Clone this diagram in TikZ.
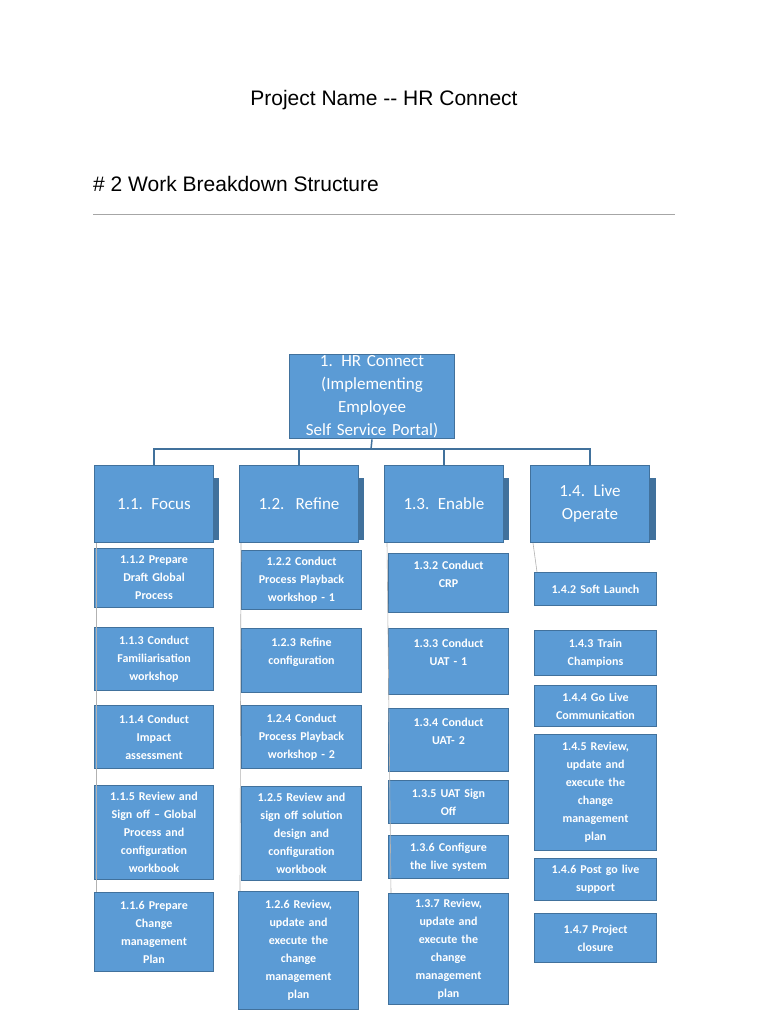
\documentclass[tikz,border=0pt]{standalone}
\usepackage{fontspec}
\setmainfont{Carlito}
\newfontfamily\hfont{Liberation Sans}
\begin{document}
\begin{tikzpicture}[x=1pt,y=-1pt,
  box/.style={draw=boxedge,fill=boxfill,line width=1pt,anchor=north west,text=white,align=center,inner sep=1pt,font=\fontsize{12}{18}\selectfont\bfseries},
  big/.style={box,font=\fontsize{17}{23}\selectfont},
  conn/.style={draw=boxedge,line width=1.5pt},
  guide/.style={draw=gray!60,line width=0.6pt}]
\definecolor{boxfill}{HTML}{5B9BD5}
\definecolor{boxedge}{HTML}{41719C}
\useasboundingbox (0,0) rectangle (768,1024);
\fill[white] (0,0) rectangle (768,1024);
\newcommand\bx[7][box]{\node[#1,minimum width=#4,minimum height=#5,text width=#4-8] (#6) at (#2,#3) {#7};}
\node[font=\hfont\fontsize{21}{25}\selectfont] (title) at (384,100) {Project Name -- HR Connect};
\node[font=\hfont\fontsize{21}{25}\selectfont,anchor=west,inner sep=0] (head) at (93,184) {\# 2 Work Breakdown Structure};
\coordinate (r1) at (93,214); \coordinate (r2) at (675,214);
\draw[gray!70,line width=0.8pt] (r1) -- (r2);
% shadows of level-1
\foreach \x in {213,358,503,650}{\fill[boxedge] (\x,478) rectangle (\x+6,540);}
\bx[big]{289}{354}{165}{77}{root}{1. HR Connect\\(Implementing Employee\\Self Service Portal)}
\bx[big]{94}{465}{119}{77}{f}{1.1. Focus}
\bx[big]{239}{465}{119}{77}{r}{1.2.\ \ Refine}
\bx[big]{384}{465}{119}{77}{e}{1.3. Enable}
\bx[big]{530}{465}{119}{77}{l}{1.4. Live Operate}
\coordinate (j) at (371,449);
\draw[conn] (root.south) -- (j);
\draw[conn] (f.north) |- (j) -| (l.north);
\draw[conn] (r.north) -- (r.north |- j);
\draw[conn] (e.north) -- (e.north |- j);
% column 1
\bx{94}{548}{119}{59}{a2}{1.1.2 Prepare\\Draft Global\\Process}
\bx{94}{627}{119}{63}{a3}{1.1.3 Conduct\\Familiarisation\\workshop}
\bx{94}{705}{119}{63}{a4}{1.1.4 Conduct\\Impact\\assessment}
\bx{94}{785}{119}{94}{a5}{1.1.5 Review and\\Sign off -- Global\\Process and\\configuration\\workbook}
\bx{94}{892}{119}{79}{a6}{1.1.6 Prepare\\Change\\management\\Plan}
% column 2
\bx{241}{550}{120}{59}{b2}{1.2.2 Conduct\\Process Playback\\workshop - 1}
\bx{241}{628}{120}{64}{b3}{1.2.3 Refine\\configuration\\~}
\bx{241}{705}{120}{63}{b4}{1.2.4 Conduct\\Process Playback\\workshop - 2}
\bx{241}{786}{120}{94}{b5}{1.2.5 Review and\\sign off solution\\design and\\configuration\\workbook}
\bx{238}{891}{120}{118}{b6}{1.2.6 Review,\\update and\\execute the\\change\\management\\plan}
% column 3
\bx{388}{553}{120}{59}{c2}{1.3.2 Conduct\\CRP\\~}
\bx{388}{628}{120}{66}{c3}{1.3.3 Conduct\\UAT - 1\\~}
\bx{388}{708}{120}{63}{c4}{1.3.4 Conduct\\UAT- 2\\~}
\bx{388}{780}{120}{43}{c5}{1.3.5 UAT Sign\\Off}
\bx{388}{835}{120}{43}{c6}{1.3.6 Configure\\the live system}
\bx{388}{893}{120}{111}{c7}{1.3.7 Review,\\update and\\execute the\\change\\management\\plan}
% column 4
\bx{534}{572}{122}{33}{d2}{1.4.2 Soft Launch}
\bx{534}{630}{122}{45}{d3}{1.4.3 Train\\Champions}
\bx{534}{685}{122}{41}{d4}{1.4.4 Go Live\\Communication}
\bx{534}{734}{122}{116}{d5}{1.4.5 Review,\\update and\\execute the\\change\\management\\plan}
\bx{534}{858}{122}{42}{d6}{1.4.6 Post go live\\support}
\bx{534}{913}{122}{49}{d7}{1.4.7 Project\\closure}
% guide lines
\begin{scope}[on background layer/.style={}]
\draw[guide] ([xshift=2pt]f.south west) -- ([xshift=2pt]a6.north west);
\draw[guide] ([xshift=2pt]r.south west) -- ([xshift=2pt]b6.north west);
\draw[guide] ([xshift=3pt]e.south west) -- ([xshift=3pt]c7.north west);
\draw[guide] ([xshift=3pt]l.south west) -- ([xshift=3pt]d2.north west);
\end{scope}
\end{tikzpicture}
\end{document}
